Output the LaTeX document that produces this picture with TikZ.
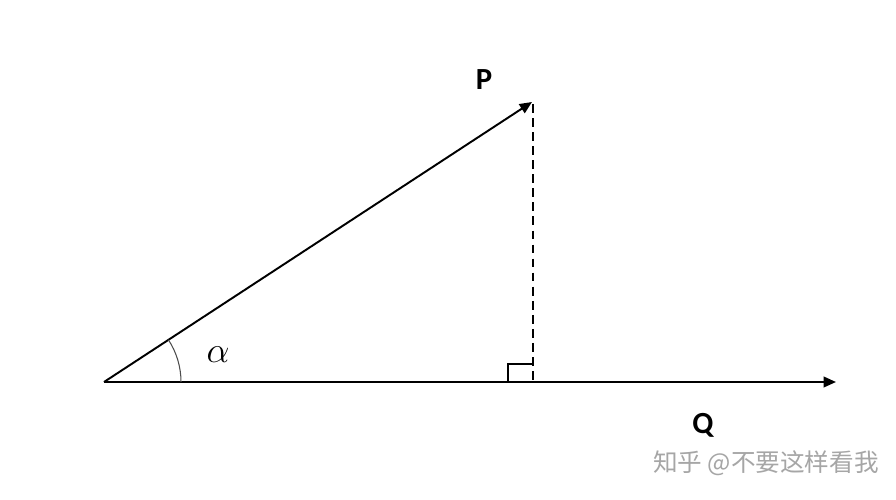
\documentclass[tikz,border=0pt]{standalone}
\usepackage{fontspec}
\setmainfont{Carlito}
\newfontfamily\cjk{Noto Sans CJK SC}
\usetikzlibrary{arrows.meta,calc}
\begin{document}
\begin{tikzpicture}[x=0.02cm,y=-0.02cm,
  vec/.style={line width=1.1pt,-{Triangle[length=7pt,width=6pt]}},
  lbl/.style={font=\fontsize{17.5}{20}\selectfont\bfseries, inner sep=0pt}]
\useasboundingbox (0,0) rectangle (896,500);
\fill[white] (0,0) rectangle (896,500);
\coordinate (O) at (104,382);
\coordinate (P) at (532,102);
\coordinate (Qe) at (836,382);
\coordinate (F) at (533,382);
\coordinate (Ft) at (533,104);
\draw[vec] (O) -- (P);
\draw[vec] (O) -- (Qe);
\draw[line width=1pt,dash pattern=on 5pt off 3pt] (Ft) -- (F);
\draw[line width=0.6pt] (508,382) -- (508,364) -- (533,364);
\draw[line width=0.6pt,black!70] ($(O)+(77,0)$) arc[start angle=0,end angle=-33.2,radius=77];
\node[lbl] (lp) at (484,80) {P};
\node[lbl] (lq) at (703,425) {Q};
\node[inner sep=0pt] (la) at (218,355) {\fontsize{21}{24}\selectfont$\mathversion{bold}\alpha$};
\node[inner sep=0pt,text=black!35] (wm) at (766,463) {\cjk\fontsize{14}{16}\selectfont 知乎 @不要这样看我};
\end{tikzpicture}
\end{document}
